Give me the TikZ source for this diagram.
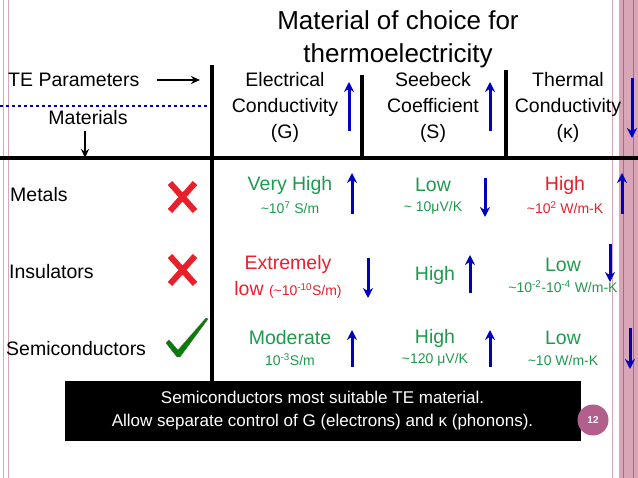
\documentclass[tikz,border=0pt]{standalone}
\usepackage{fontspec}
\setmainfont{Liberation Sans}
\usetikzlibrary{arrows.meta}
\begin{document}
\begin{tikzpicture}[x=1pt,y=-1pt,
 lab/.style={inner sep=0pt,font=\fontsize{19.5}{26}\selectfont,align=center},
 sm/.style={inner sep=0pt,font=\fontsize{14}{16}\selectfont},
 bar/.style={line width=3.5pt},
 barr/.style={blue!75!black,line width=3pt,-{Stealth[length=10pt,width=10pt]}}]
\definecolor{gr}{HTML}{1E9A4E}\definecolor{rd}{HTML}{E8202A}\definecolor{pk}{HTML}{D8A6B6}
\useasboundingbox (0,0) rectangle (638,478);
\fill[white] (0,0) rectangle (638,478);
% borders
\draw[pk,line width=1pt] (3,0)--(3,478) (8,0)--(8,478) (612,0)--(612,478);
\fill[pk] (619,0) rectangle (638,478);
\draw[pk!70!black,line width=.6pt] (623,0)--(623,478) (633,0)--(633,478);
% title
\node[lab,font=\fontsize{26}{33}\selectfont] (title) at (398,39) {Material of choice for\\thermoelectricity};
% grid
\draw[bar] (0,158)--(638,158);
\draw[bar] (212,65)--(212,410);
\draw[bar] (362,75)--(362,158);
\draw[bar] (506,70)--(506,158);
% header left
\node[lab,anchor=west] (tep) at (8,80) {TE Parameters};
\coordinate (a1) at (157,80); \coordinate (a2) at (200,80);
\draw[line width=2pt,-{Stealth[length=9pt,width=8pt]}] (a1)--(a2);
\draw[blue!70!black,dashed,line width=1.2pt] (0,106)--(210,106);
\node[lab] (mat) at (88,118) {Materials};
\coordinate (m1) at (85,131); \coordinate (m2) at (85,158);
\draw[line width=2pt,-{Stealth[length=9pt,width=8pt]}] (m1)--(m2);
% header cols
\node[lab] (ec) at (285,107) {Electrical\\Conductivity\\(G)};
\node[lab] (sc) at (433,107) {Seebeck\\Coefficient\\(S)};
\node[lab] (tc) at (568,107) {Thermal\\Conductivity\\(κ)};
\draw[barr] (349,131)--(349,82);
\draw[barr] (490,131)--(490,82);
\draw[barr] (632,78)--(632,138);
% metals
\node[lab,anchor=west] (met) at (10,195) {Metals};
\node[lab,text=gr] (m1t) at (290,185) {Very High};
\node[sm,text=gr] (m1s) at (290,208) {\textasciitilde 10\textsuperscript{7} S/m};
\draw[barr] (352,214)--(352,173);
\node[lab,text=gr] (m2t) at (433,185) {Low};
\node[sm,text=gr] (m2s) at (433,208) {\textasciitilde{} 10μV/K};
\draw[barr] (485,178)--(485,217);
\node[lab,text=rd] (m3t) at (565,185) {High};
\node[sm,text=rd] (m3s) at (565,208) {\textasciitilde 10\textsuperscript{2} W/m-K};
\draw[barr] (622,214)--(622,173);
% insulators
\node[lab,anchor=west] (ins) at (9,272) {Insulators};
\node[lab,text=rd] (i1t) at (288,264) {Extremely};
\node[lab,text=rd] (i1s) at (288,290) {low {\fontsize{14}{16}\selectfont(\textasciitilde 10\textsuperscript{-10}S/m)}};
\draw[barr] (368,258)--(368,298);
\node[lab,text=gr] (i2t) at (435,275) {High};
\draw[barr] (470,293)--(470,255);
\node[lab,text=gr] (i3t) at (563,265) {Low};
\node[sm,text=gr] (i3s) at (563,287) {\textasciitilde 10\textsuperscript{-2}-10\textsuperscript{-4} W/m-K};
\draw[barr] (610,244)--(610,282);
% semiconductors
\node[lab,anchor=west] (sem) at (6,349) {Semiconductors};
\node[lab,text=gr] (s1t) at (290,338) {Moderate};
\node[sm,text=gr] (s1s) at (290,360) {10\textsuperscript{-3}S/m};
\draw[barr] (352,367)--(352,330);
\node[lab,text=gr] (s2t) at (435,338) {High};
\node[sm,text=gr] (s2s) at (435,360) {\textasciitilde 120 μV/K};
\draw[barr] (490,367)--(490,330);
\node[lab,text=gr] (s3t) at (563,338) {Low};
\node[sm,text=gr] (s3s) at (563,360) {\textasciitilde 10 W/m-K};
\draw[barr] (630,328)--(630,369);
% crosses
\foreach \y in {197,270}{
 \draw[rd,line width=6pt] (170,\y-14)--(195,\y+14) (195,\y-14)--(170,\y+14);}
% check
\fill[green!50!black,draw=black!60,line width=.4pt] (166,343)--(169,340)--(178,350)--(206,318)--(208,319)--(180,357)--(177,357)--cycle;
% box
\node[fill=black,text=white,lab,font=\fontsize{17}{23}\selectfont,minimum width=516pt,minimum height=60pt] (box) at (322.5,411) {Semiconductors most suitable TE material.\\Allow separate control of G (electrons) and κ (phonons).};
\node[circle,fill=magenta!60!black!80,minimum size=31pt,inner sep=0pt,text=white,font=\bfseries\fontsize{10}{12}\selectfont] (pg) at (593,420) {12};
\end{tikzpicture}
\end{document}
